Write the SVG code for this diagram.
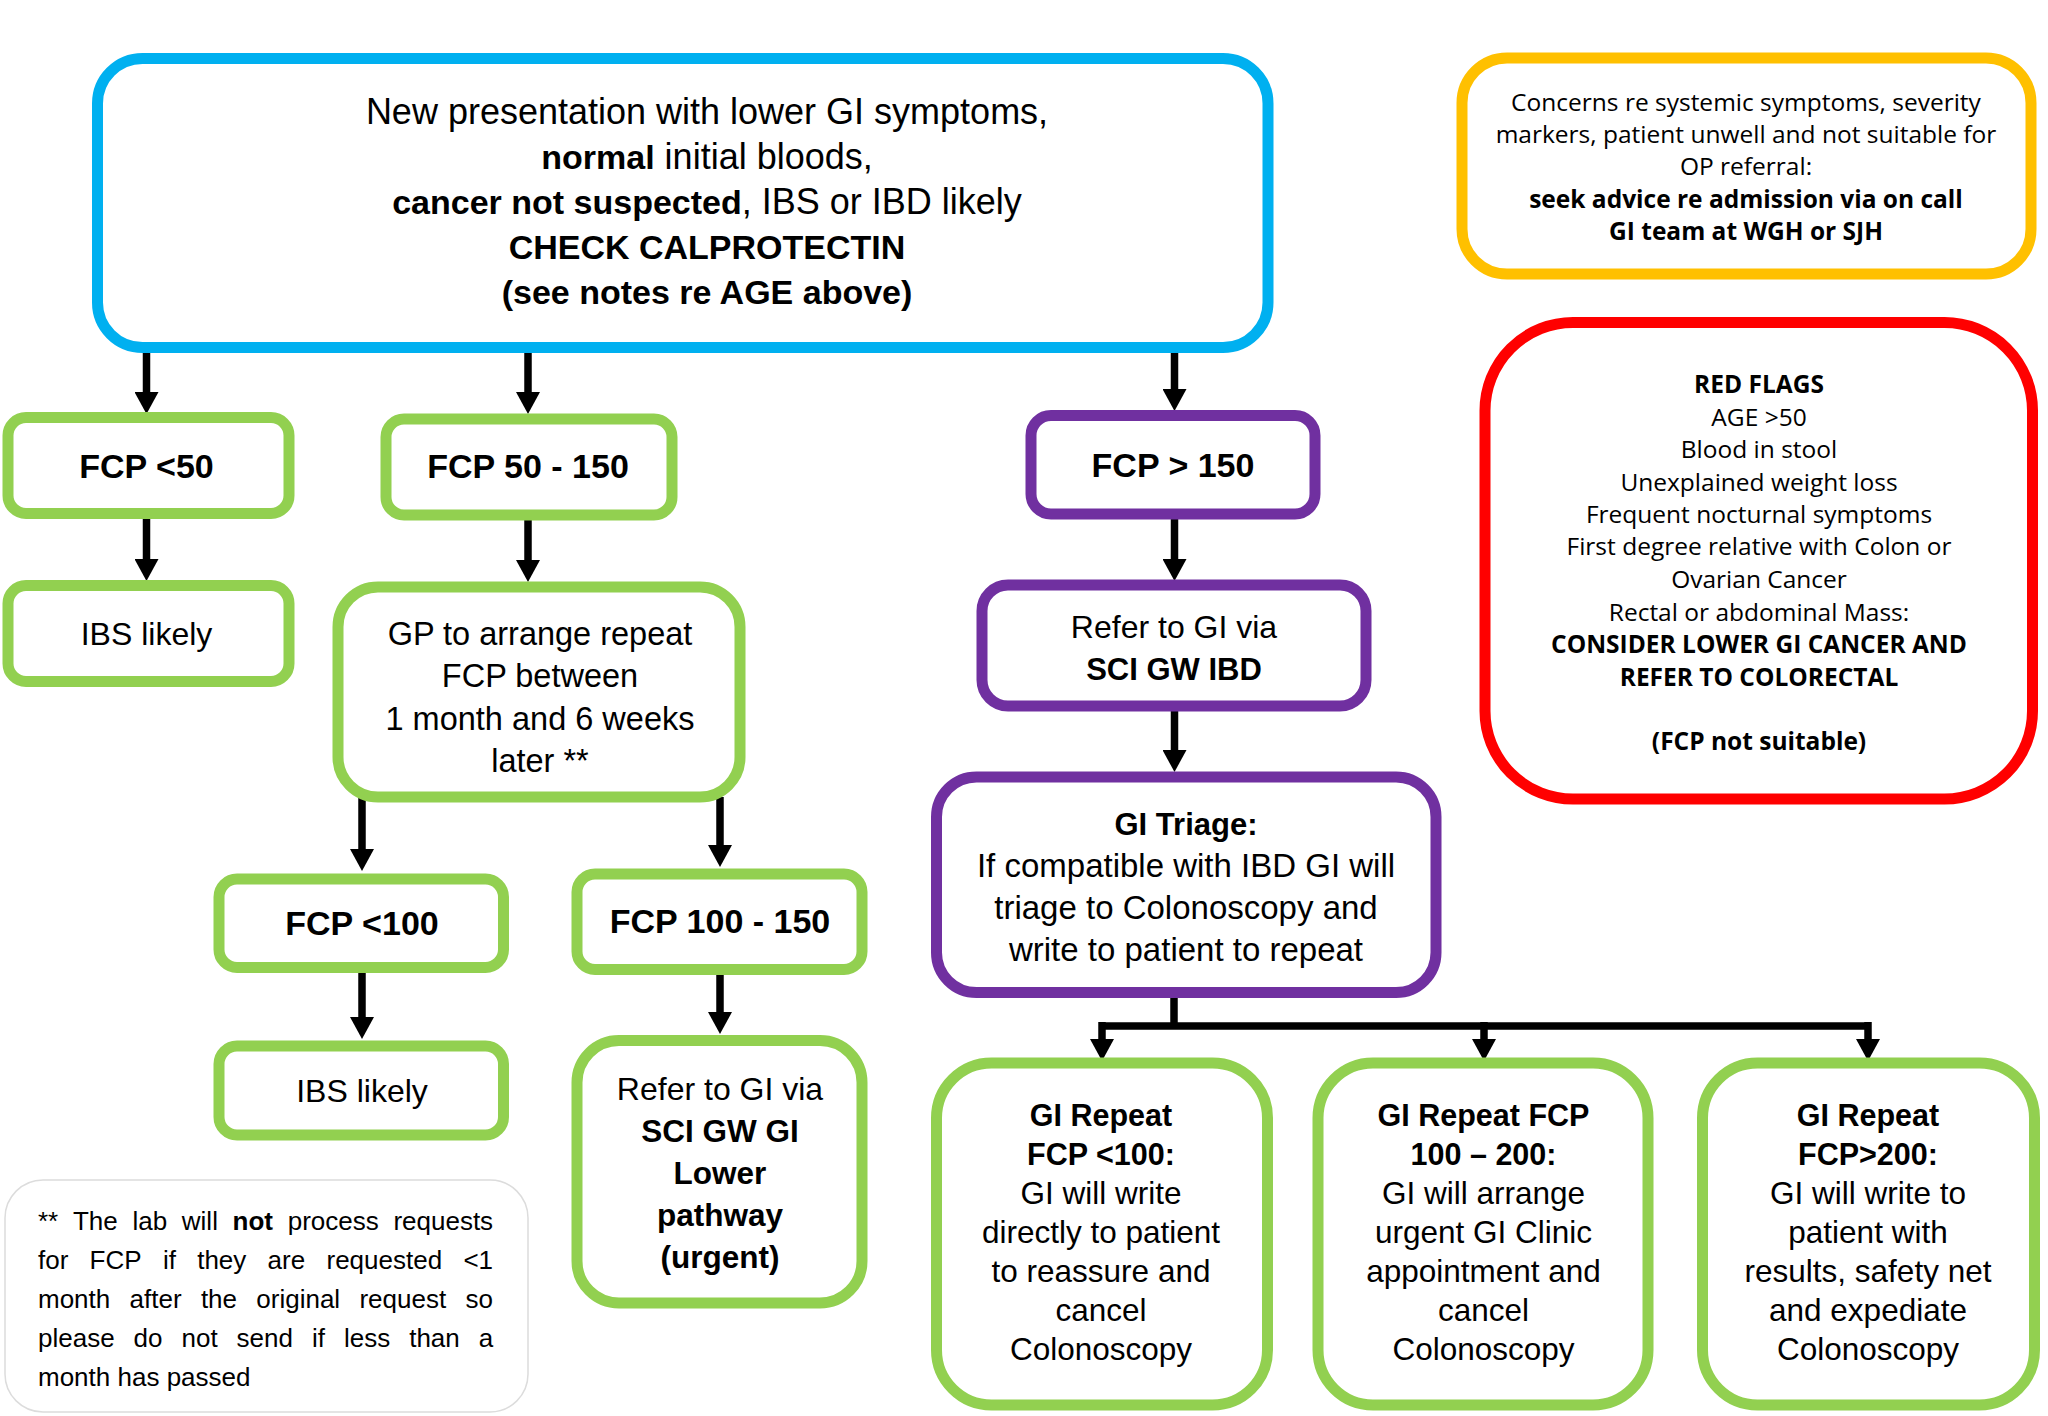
<svg xmlns="http://www.w3.org/2000/svg" width="2048" height="1416" viewBox="0 0 2048 1416">
<style>
.t{font-family:"Liberation Sans",Arial,sans-serif;fill:#000;text-anchor:middle}
.l{text-anchor:start}
.b{font-weight:bold}
.o{font-family:"Open Sans","Liberation Sans",sans-serif;fill:#000;text-anchor:middle;font-size:24.5px}
.box{fill:#fff;stroke-width:11}
.blue{stroke:#00B0F0}
.green{stroke:#92D050}
.purple{stroke:#7030A0}
.yellow{stroke:#FFC000}
.red{stroke:#FF0000}
.conn{stroke:#000;stroke-width:7.5;fill:none;stroke-linejoin:miter}
.arr{marker-end:url(#ah)}
</style>
<defs>
<marker id="ah" markerUnits="userSpaceOnUse" markerWidth="24" markerHeight="24" viewBox="0 0 22 24" refX="1" refY="12" orient="auto">
<path d="M0,0 L22,12 L0,24 z" fill="#000"/>
</marker>
</defs>
<rect width="2048" height="1416" fill="#fff"/>

<g id="connectors">
<path class="conn arr" d="M146.5 347 V393"/>
<path class="conn arr" d="M528 347 V393"/>
<path class="conn arr" d="M1174.5 347 V390"/>
<path class="conn arr" d="M146.5 513 V560"/>
<path class="conn arr" d="M528 515 V561"/>
<path class="conn arr" d="M1174.5 514 V560"/>
<path class="conn arr" d="M1174.5 706 V751"/>
<path class="conn arr" d="M362 797 V850"/>
<path class="conn arr" d="M720 797 V846"/>
<path class="conn arr" d="M362 967 V1018"/>
<path class="conn arr" d="M720 970 V1013"/>
<path class="conn" d="M1174 992 V1026"/>
<path class="conn" d="M1102 1026 H1868"/>
<path class="conn arr" d="M1102 1022 V1040"/>
<path class="conn arr" d="M1484 1022 V1040"/>
<path class="conn arr" d="M1868 1022 V1040"/>
</g>

<g id="start">
<rect class="box blue" x="97.5" y="58.5" width="1170.5" height="289" rx="45"/>
<text class="t" x="707" y="124" font-size="36">New presentation with lower GI symptoms,</text>
<text class="t" x="707" y="169" font-size="36"><tspan class="b" font-size="34">normal</tspan> initial bloods,</text>
<text class="t" x="707" y="214" font-size="36"><tspan class="b" font-size="34">cancer not suspected</tspan>, IBS or IBD likely</text>
<text class="t b" x="707" y="259" font-size="34">CHECK CALPROTECTIN</text>
<text class="t b" x="707" y="304" font-size="34">(see notes re AGE above)</text>
</g>

<g id="systemic">
<rect class="box yellow" x="1462" y="58" width="569" height="216" rx="45"/>
<text class="o" x="1746" y="111">Concerns re systemic symptoms, severity</text>
<text class="o" x="1746" y="143">markers, patient unwell and not suitable for</text>
<text class="o" x="1746" y="175">OP referral:</text>
<text class="o b" x="1746" y="208">seek advice re admission via on call</text>
<text class="o b" x="1746" y="240">GI team at WGH or SJH</text>
</g>

<g id="redflags">
<rect class="box red" x="1485" y="322.5" width="547.5" height="476.5" rx="88"/>
<text class="o b" x="1759" y="393">RED FLAGS</text>
<text class="o" x="1759" y="426">AGE &gt;50</text>
<text class="o" x="1759" y="458">Blood in stool</text>
<text class="o" x="1759" y="491">Unexplained weight loss</text>
<text class="o" x="1759" y="523">Frequent nocturnal symptoms</text>
<text class="o" x="1759" y="555">First degree relative with Colon or</text>
<text class="o" x="1759" y="588">Ovarian Cancer</text>
<text class="o" x="1759" y="621">Rectal or abdominal Mass:</text>
<text class="o b" x="1759" y="653">CONSIDER LOWER GI CANCER AND</text>
<text class="o b" x="1759" y="686">REFER TO COLORECTAL</text>
<text class="o b" x="1759" y="750">(FCP not suitable)</text>
</g>

<g id="fcp-lt50">
<rect class="box green" x="8" y="417.5" width="281" height="96" rx="18"/>
<text class="t b" x="146.5" y="478" font-size="34">FCP &lt;50</text>
</g>

<g id="fcp-50-150">
<rect class="box green" x="386" y="419" width="286" height="96" rx="18"/>
<text class="t b" x="528" y="478" font-size="34">FCP 50 - 150</text>
</g>

<g id="fcp-gt150">
<rect class="box purple" x="1031" y="415.5" width="284" height="98.5" rx="20"/>
<text class="t b" x="1173" y="477" font-size="34">FCP &gt; 150</text>
</g>

<g id="ibs-1">
<rect class="box green" x="8" y="585.5" width="281" height="96" rx="18"/>
<text class="t" x="146.5" y="645" font-size="32">IBS likely</text>
</g>

<g id="gp-repeat">
<rect class="box green" x="338" y="587" width="402" height="210" rx="40"/>
<text class="t" x="540" y="645" font-size="32.5">GP to arrange repeat</text>
<text class="t" x="540" y="687" font-size="32.5">FCP between</text>
<text class="t" x="540" y="730" font-size="32.5">1 month and 6 weeks</text>
<text class="t" x="540" y="772" font-size="32.5">later **</text>
</g>

<g id="refer-ibd">
<rect class="box purple" x="982" y="585" width="384" height="121" rx="26"/>
<text class="t" x="1174" y="638" font-size="32">Refer to GI via</text>
<text class="t b" x="1174" y="680" font-size="31">SCI GW IBD</text>
</g>

<g id="gi-triage">
<rect class="box purple" x="936.5" y="777" width="499.5" height="215.5" rx="40"/>
<text class="t b" x="1186" y="835" font-size="31">GI Triage:</text>
<text class="t" x="1186" y="877" font-size="33">If compatible with IBD GI will</text>
<text class="t" x="1186" y="919" font-size="33">triage to Colonoscopy and</text>
<text class="t" x="1186" y="961" font-size="33">write to patient to repeat</text>
</g>

<g id="fcp-lt100">
<rect class="box green" x="219" y="879" width="284.5" height="88.5" rx="18"/>
<text class="t b" x="362" y="935" font-size="34">FCP &lt;100</text>
</g>

<g id="fcp-100-150">
<rect class="box green" x="577" y="874" width="285" height="95.5" rx="18"/>
<text class="t b" x="720" y="933" font-size="34">FCP 100 - 150</text>
</g>

<g id="ibs-2">
<rect class="box green" x="219" y="1046" width="284.5" height="89" rx="18"/>
<text class="t" x="362" y="1102" font-size="32">IBS likely</text>
</g>

<g id="refer-lower">
<rect class="box green" x="577" y="1040.5" width="285" height="262.5" rx="42"/>
<text class="t" x="720" y="1100" font-size="32">Refer to GI via</text>
<text class="t b" x="720" y="1142" font-size="31.5">SCI GW GI</text>
<text class="t b" x="720" y="1184" font-size="31.5">Lower</text>
<text class="t b" x="720" y="1226" font-size="31.5">pathway</text>
<text class="t b" x="720" y="1268" font-size="31.5">(urgent)</text>
</g>

<g id="repeat-lt100">
<rect class="box green" x="936.5" y="1063" width="331" height="342" rx="55"/>
<text class="t b" x="1101" y="1126" font-size="30.5">GI Repeat</text>
<text class="t b" x="1101" y="1165" font-size="30.5">FCP &lt;100:</text>
<text class="t" x="1101" y="1204" font-size="31.5">GI will write</text>
<text class="t" x="1101" y="1243" font-size="31.5">directly to patient</text>
<text class="t" x="1101" y="1282" font-size="31.5">to reassure and</text>
<text class="t" x="1101" y="1321" font-size="31.5">cancel</text>
<text class="t" x="1101" y="1360" font-size="31.5">Colonoscopy</text>
</g>

<g id="repeat-100-200">
<rect class="box green" x="1318" y="1063" width="330" height="342" rx="55"/>
<text class="t b" x="1483.5" y="1126" font-size="30.5">GI Repeat FCP</text>
<text class="t b" x="1483.5" y="1165" font-size="30.5">100 – 200:</text>
<text class="t" x="1483.5" y="1204" font-size="31.5">GI will arrange</text>
<text class="t" x="1483.5" y="1243" font-size="31.5">urgent GI Clinic</text>
<text class="t" x="1483.5" y="1282" font-size="31.5">appointment and</text>
<text class="t" x="1483.5" y="1321" font-size="31.5">cancel</text>
<text class="t" x="1483.5" y="1360" font-size="31.5">Colonoscopy</text>
</g>

<g id="repeat-gt200">
<rect class="box green" x="1702.5" y="1063" width="332" height="342" rx="55"/>
<text class="t b" x="1868" y="1126" font-size="30.5">GI Repeat</text>
<text class="t b" x="1868" y="1165" font-size="30.5">FCP&gt;200:</text>
<text class="t" x="1868" y="1204" font-size="31.5">GI will write to</text>
<text class="t" x="1868" y="1243" font-size="31.5">patient with</text>
<text class="t" x="1868" y="1282" font-size="31.5">results, safety net</text>
<text class="t" x="1868" y="1321" font-size="31.5">and expediate</text>
<text class="t" x="1868" y="1360" font-size="31.5">Colonoscopy</text>
</g>

<g id="footnote">
<rect x="5" y="1180" width="523" height="232" rx="38" fill="#fff" stroke="#dcdcdc" stroke-width="1.5"/>
<text class="t l" y="1230" font-size="26"><tspan x="38">**</tspan><tspan x="72.9">The</tspan><tspan x="132.4">lab</tspan><tspan x="181.8">will</tspan><tspan x="232.6" class="b">not</tspan><tspan x="287.7">process</tspan><tspan x="393.4">requests</tspan></text>
<text class="t l" y="1269" font-size="26"><tspan x="38">for</tspan><tspan x="89.6">FCP</tspan><tspan x="162.9">if</tspan><tspan x="197.2">they</tspan><tspan x="267.6">are</tspan><tspan x="326.5">requested</tspan><tspan x="463.4">&lt;1</tspan></text>
<text class="t l" y="1308" font-size="26"><tspan x="38">month</tspan><tspan x="129.6">after</tspan><tspan x="200.9">the</tspan><tspan x="256.3">original</tspan><tspan x="359.4">request</tspan><tspan x="465.4">so</tspan></text>
<text class="t l" y="1347" font-size="26"><tspan x="38">please</tspan><tspan x="133.6">do</tspan><tspan x="181.5">not</tspan><tspan x="236.6">send</tspan><tspan x="312">if</tspan><tspan x="344">less</tspan><tspan x="409.2">than</tspan><tspan x="478.8">a</tspan></text>
<text class="t l" x="38" y="1386" font-size="26">month has passed</text>
</g>
</svg>
